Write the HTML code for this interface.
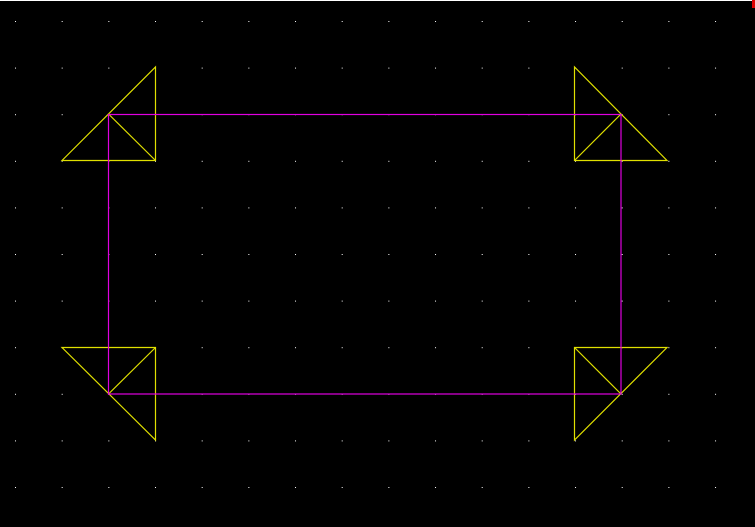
<!DOCTYPE html>
<html><head><style>html,body{margin:0;padding:0;background:#000;overflow:hidden}</style></head>
<body>
<svg width="755" height="527" xmlns="http://www.w3.org/2000/svg" style="display:block">
<defs>
<pattern id="g" x="15" y="21" width="46.67" height="46.6" patternUnits="userSpaceOnUse">
<rect x="0" y="0" width="1" height="1" fill="#fff"/>
</pattern>
</defs>
<rect width="755" height="527" fill="#000"/>
<rect width="755" height="527" fill="url(#g)"/>
<line x1="0" y1="0.5" x2="755" y2="0.5" stroke="#fff" stroke-width="1"/>
<rect x="752" y="0" width="3" height="8" fill="#d00"/>
<g fill="none" stroke="#e0e000" stroke-width="1.2">
<polygon points="62,160.5 155.5,67 155.5,160.5"/>
<line x1="108.5" y1="114" x2="155.5" y2="160.5"/>
<polygon points="574.5,67 574.5,160.5 667,160.5"/>
<line x1="574.5" y1="160.5" x2="621" y2="114"/>
<polygon points="62,347.5 155.5,347.5 155.5,440"/>
<line x1="108.5" y1="394" x2="155.5" y2="347.5"/>
<polygon points="574.5,347.5 667,347.5 574.5,440"/>
<line x1="574.5" y1="347.5" x2="621" y2="394"/>
</g>
<rect x="108.5" y="114.5" width="512.5" height="279.5" fill="none" stroke="#e000e0" stroke-width="1.2"/>
</svg>
</body></html>
